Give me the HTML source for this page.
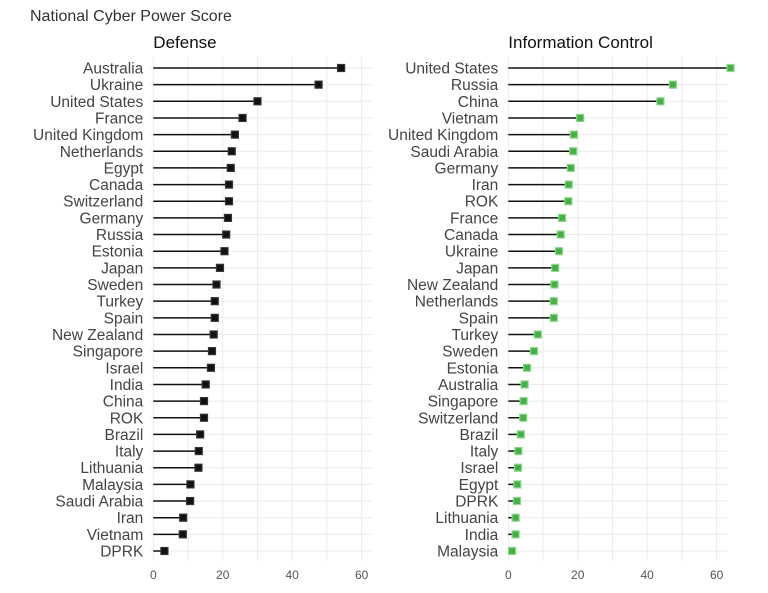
<!DOCTYPE html>
<html><head><meta charset="utf-8"><style>
body{margin:0;background:#fff;font-family:"Liberation Sans",sans-serif;}
svg text{font-family:"Liberation Sans",sans-serif;}
</style></head><body>
<svg id="chart" width="768" height="588" xmlns="http://www.w3.org/2000/svg">
<text x="30" y="21" font-size="16" fill="#333">National Cyber Power Score</text>
<g id="left"></g><g id="right"></g>
</svg>
<script>
const defCats=["Australia","Ukraine","United States","France","United Kingdom","Netherlands","Egypt","Canada","Switzerland","Germany","Russia","Estonia","Japan","Sweden","Turkey","Spain","New Zealand","Singapore","Israel","India","China","ROK","Brazil","Italy","Lithuania","Malaysia","Saudi Arabia","Iran","Vietnam","DPRK"];
const defVals=[54.1,47.6,30.0,25.7,23.5,22.6,22.3,21.8,21.8,21.5,21.0,20.5,19.2,18.2,17.7,17.7,17.4,16.9,16.6,15.1,14.6,14.6,13.5,13.1,13.0,10.7,10.6,8.6,8.5,3.2];
const infCats=["United States","Russia","China","Vietnam","United Kingdom","Saudi Arabia","Germany","Iran","ROK","France","Canada","Ukraine","Japan","New Zealand","Netherlands","Spain","Turkey","Sweden","Estonia","Australia","Singapore","Switzerland","Brazil","Italy","Israel","Egypt","DPRK","Lithuania","India","Malaysia"];
const infVals=[64.0,47.4,43.8,20.7,18.9,18.7,18.0,17.4,17.3,15.5,15.1,14.6,13.5,13.3,13.1,13.1,8.5,7.4,5.4,4.7,4.4,4.3,3.6,2.9,2.8,2.6,2.5,2.1,2.1,1.1];
const ticks=[0,20,40,60];
const NS="http://www.w3.org/2000/svg";
function mk(parent,tag,attrs){const e=document.createElementNS(NS,tag);for(const k in attrs)e.setAttribute(k,attrs[k]);parent.appendChild(e);return e;}
function panel(gid,title,cats,vals,x0,fill,stroke,nm){
  const g=document.getElementById(gid);
  const sx=v=>x0+v*3.472;
  const top=68,step=(551-68)/(cats.length-1);
  const sy=i=>top+i*step;
  const t=mk(g,'text',{x:x0,y:48,'font-size':17,fill:'#111'});t.textContent=title;
  
  
  for(let v=0;v<=60;v+=10){const l=mk(g,'line',{x1:sx(v),x2:sx(v),y1:57,y2:561,stroke:'#ebebeb','stroke-width':1});
    
    }
  cats.forEach((c,i)=>{const l=mk(g,'line',{x1:x0-3,x2:sx(63),y1:sy(i),y2:sy(i),stroke:'#ebebeb','stroke-width':1});
    
    });
  ticks.forEach(v=>{const t=mk(g,'text',{x:sx(v),y:579,'font-size':12,fill:'#555','text-anchor':'middle'});t.textContent=v;
    
    });
  cats.forEach((c,i)=>{
    const t=mk(g,'text',{x:x0-10,y:sy(i)+5.5,'font-size':15.5,fill:'#444','text-anchor':'end'});t.textContent=c;
    
    
    const l=mk(g,'line',{x1:sx(0),x2:sx(vals[i]),y1:sy(i),y2:sy(i),stroke:'#111','stroke-width':1.5});
    
    
    const r=mk(g,'rect',{x:sx(vals[i])-3.5,y:sy(i)-3.5,width:7,height:7,fill:fill,stroke:stroke,'stroke-width':1.2});
    
    
  });
}
panel('left','Defense',defCats,defVals,153.3,'#111','#333','defense');
panel('right','Information Control',infCats,infVals,508.3,'#45b045','#8ad88a','information-control');
</script>
</body></html>
